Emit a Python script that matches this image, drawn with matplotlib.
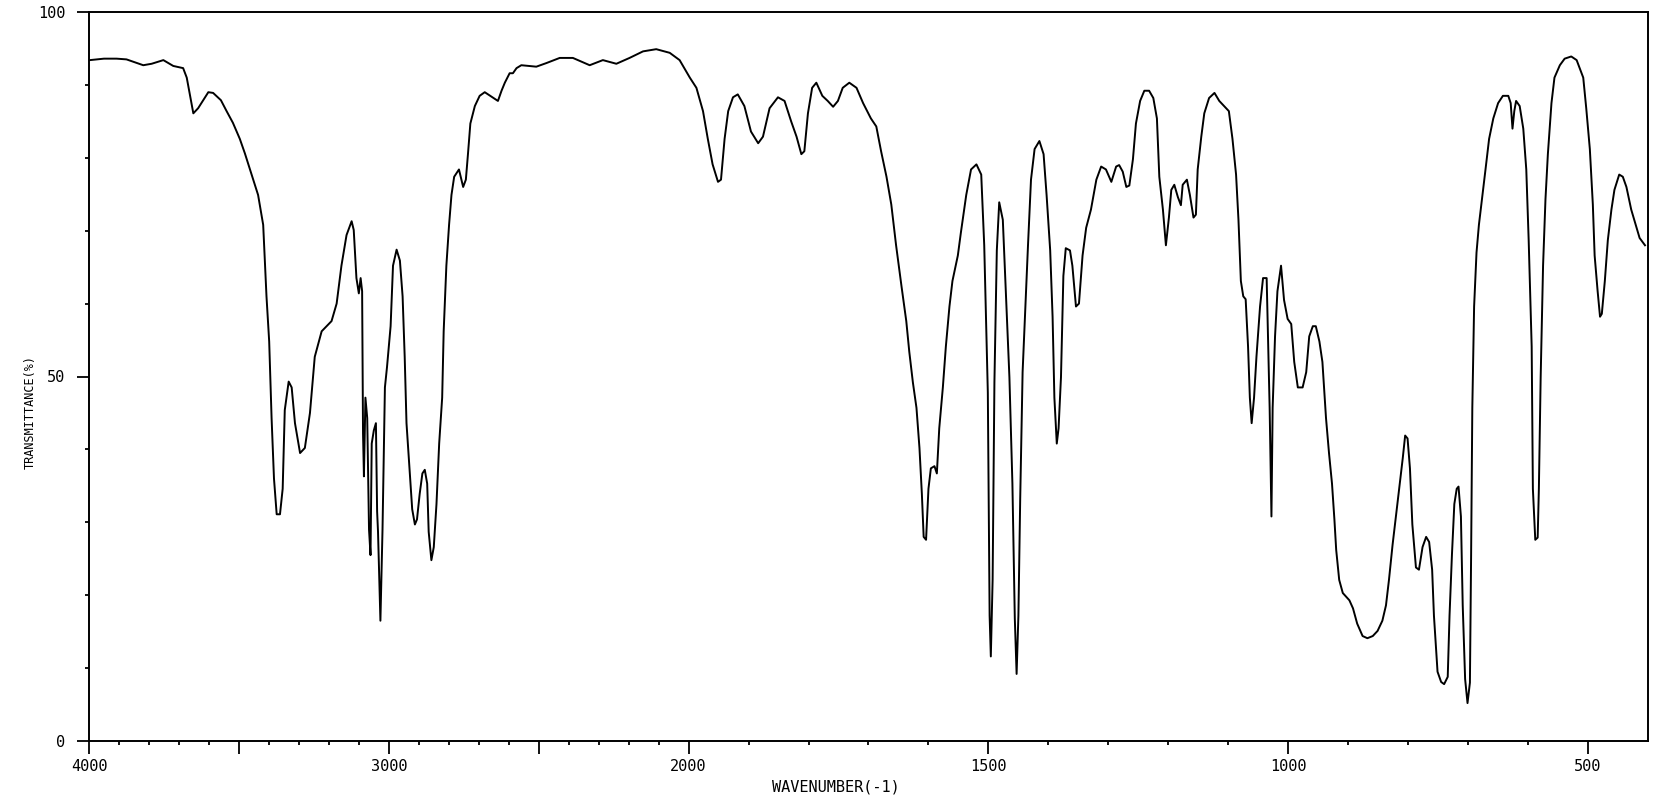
import numpy as np
import matplotlib
matplotlib.use('Agg')
import matplotlib.pyplot as plt

# IR spectrum (wavenumber in cm-1, transmittance in %)
wavenumber = [
    3997, 3950, 3908, 3875, 3819, 3791, 3752, 3719, 3686, 3674, 3652, 3636, 3602, 3586,
    3560, 3541, 3520, 3497, 3480, 3463, 3450, 3436, 3428, 3419, 3408, 3399, 3391, 3383, 3374, 3363, 3354, 3347, 3334,
    3324, 3313, 3296, 3280, 3263, 3247, 3224, 3191, 3174, 3158, 3141, 3124, 3117, 3108,
    3100, 3094, 3089, 3086, 3083, 3078, 3072, 3066, 3061, 3057, 3050, 3043, 3039, 3036,
    3028, 3021, 3013, 3006, 2994, 2986, 2974, 2963, 2954, 2947, 2941, 2930, 2922, 2913,
    2906, 2897, 2888, 2880, 2872, 2867, 2858, 2850, 2841, 2832, 2822, 2817, 2808, 2799,
    2791, 2782, 2766, 2752, 2743, 2736, 2728, 2713, 2697, 2680, 2658, 2636, 2624, 2613,
    2597, 2586, 2574, 2558, 2508, 2474, 2430, 2386, 2330, 2286, 2241, 2197, 2152, 2108,
    2063, 2030, 1998,
    1987, 1976, 1968, 1960, 1951, 1946, 1940, 1934, 1926, 1918, 1907, 1896, 1884, 1876,
    1865, 1851, 1840, 1829, 1820, 1812, 1807, 1801, 1794, 1787, 1777, 1768, 1759, 1751,
    1743, 1732, 1720, 1709, 1696, 1687, 1679, 1670, 1662, 1654, 1645, 1637, 1632, 1626,
    1620, 1615, 1611, 1608, 1604, 1600, 1596, 1590, 1586, 1582, 1576, 1571, 1565, 1560,
    1551, 1546, 1537, 1529, 1520, 1512, 1507, 1501, 1498, 1496, 1493, 1490, 1486, 1482,
    1476, 1470, 1465, 1460, 1456, 1453, 1450, 1447, 1443, 1438, 1434, 1429, 1423, 1415,
    1408, 1403, 1397, 1393, 1390, 1386, 1383, 1379, 1375, 1371, 1364, 1360, 1354, 1349,
    1343, 1337, 1329, 1320, 1312, 1304, 1295, 1287, 1282, 1276, 1270, 1265, 1259, 1254,
    1247, 1240, 1232, 1225, 1219, 1215, 1209, 1204, 1199, 1195, 1190, 1184, 1179, 1176,
    1169, 1164, 1158, 1154, 1151, 1145, 1140, 1132, 1123, 1115, 1107, 1099, 1093, 1087,
    1083, 1079, 1075, 1071, 1067, 1064, 1061, 1057, 1053, 1047, 1042, 1036, 1031, 1028,
    1026, 1022, 1018, 1012, 1007, 1001, 995, 990, 984, 976, 970, 965, 959, 954, 948, 943,
    937, 932, 927, 923, 920, 915, 909, 898, 892, 885, 876, 868, 859, 851, 843, 837, 832,
    826, 820, 815, 809, 805, 801, 797, 793, 787, 782, 776, 770, 765, 760, 757, 751, 745,
    740, 734, 731, 727, 723, 719, 716, 712, 709, 705, 701, 697, 695, 693, 690, 686, 682,
    676, 671, 665, 658, 650, 642, 633, 629, 626, 623, 620, 614, 608, 603, 599, 594, 592,
    588, 584, 582, 579, 575, 571, 567, 561, 556, 547, 539, 528, 519, 508, 503, 497, 492,
    489, 484, 480, 477, 472, 467, 461, 456, 448, 442, 436, 428, 419, 414, 405,
]
transmittance = [
    93.4, 93.6, 93.6, 93.5, 92.7, 92.9, 93.4, 92.6, 92.3, 91.0, 86.1, 86.8, 89.0, 88.9,
    87.9, 86.4, 84.8, 82.6, 80.6, 78.4, 76.7, 74.9, 73.0, 70.8, 61.0, 54.8, 44.3, 36.0, 31.1, 31.1, 34.6, 45.4, 49.3,
    48.5, 43.6, 39.5, 40.2, 45.0, 52.7, 56.2, 57.6, 60.0, 65.2, 69.4, 71.3, 70.1, 63.5,
    61.4, 63.5, 61.7, 42.2, 36.3, 47.1, 44.3, 29.0, 25.5, 40.8, 42.6, 43.6, 31.5, 28.7,
    16.5, 29.0, 48.5, 51.3, 56.9, 65.2, 67.4, 65.9, 61.0, 52.7, 43.6, 36.7, 31.8, 29.7,
    30.4, 33.9, 36.7, 37.2, 35.3, 28.7, 24.8, 26.6, 32.5, 40.8, 47.1, 56.2, 65.2, 70.8,
    74.9, 77.4, 78.4, 76.0, 77.0, 80.5, 84.7, 87.1, 88.5, 89.0, 88.4, 87.8, 89.2, 90.3,
    91.6, 91.6, 92.3, 92.7, 92.5, 93.0, 93.7, 93.7, 92.7, 93.4, 92.9, 93.7, 94.6, 94.9,
    94.4, 93.4, 91.0,
    89.6, 86.4, 82.6, 79.1, 76.7, 77.0, 82.6, 86.4, 88.3, 88.7, 87.1, 83.6, 82.0, 82.9,
    86.8, 88.3, 87.8, 85.0, 82.9, 80.5, 80.9, 86.1, 89.6, 90.3, 88.5, 87.8, 87.0, 87.8,
    89.6, 90.3, 89.6, 87.5, 85.4, 84.3, 80.9, 77.4, 73.6, 68.0, 62.4, 57.6, 53.4, 49.2,
    45.7, 40.2, 33.9, 28.0, 27.6, 34.6, 37.4, 37.7, 36.7, 42.9, 48.5, 54.1, 59.6, 63.1,
    66.6, 69.7, 74.9, 78.4, 79.1, 77.7, 68.0, 47.8, 17.2, 11.6, 22.1, 49.2, 67.3, 73.9,
    71.5, 59.6, 49.9, 35.3, 16.8, 9.2, 17.2, 33.2, 50.6, 60.3, 68.0, 77.0, 81.2, 82.3,
    80.5, 74.9, 67.3, 58.2, 47.1, 40.8, 42.9, 49.9, 63.8, 67.6, 67.3, 65.2, 59.6, 60.0,
    66.6, 70.4, 72.9, 77.0, 78.8, 78.4, 76.7, 78.8, 79.0, 78.1, 76.0, 76.2, 79.8, 84.7,
    87.8, 89.2, 89.2, 88.2, 85.4, 77.4, 72.9, 68.0, 71.8, 75.6, 76.3, 74.6, 73.5, 76.3,
    77.0, 74.9, 71.8, 72.2, 78.4, 82.9, 86.1, 88.2, 88.9, 87.8, 87.1, 86.4, 82.6, 77.7,
    71.5, 63.1, 61.0, 60.6, 54.1, 47.1, 43.6, 47.1, 52.7, 59.6, 63.5, 63.5, 45.7, 30.8,
    45.7, 55.5, 61.7, 65.2, 60.5, 57.9, 57.2, 52.0, 48.5, 48.5, 50.6, 55.5, 56.9, 56.9, 54.8, 52.0,
    44.3, 39.5, 35.3, 30.4, 26.2, 22.1, 20.3, 19.3, 18.2, 16.1, 14.4, 14.1, 14.4, 15.1, 16.5, 18.6, 22.1,
    26.9, 31.1, 34.6, 38.8, 41.9, 41.5, 37.4, 29.7, 23.8, 23.5, 26.6, 28.0, 27.3, 23.5, 17.2, 9.5, 8.1,
    7.8, 8.8, 17.2, 25.5, 32.5, 34.6, 34.9, 30.8, 18.6, 8.5, 5.2, 8.0, 25.5, 45.7, 59.6, 67.0, 70.8,
    74.9, 78.4, 82.6, 85.4, 87.5, 88.5, 88.5, 87.5, 84.0, 86.4, 87.8, 87.1, 84.0, 78.4, 68.7, 54.1, 34.6,
    27.6, 27.9, 34.6, 49.9, 65.2, 74.3, 80.5, 87.5, 91.0, 92.7, 93.6, 93.9, 93.4, 91.0, 86.8, 81.2, 73.6,
    66.6, 61.7, 58.2, 58.6, 63.1, 68.7, 72.9, 75.6, 77.7, 77.4, 76.0, 72.9, 70.4, 69.0, 68.0,
]

x_major = [4000, 3500, 3000, 2500, 2000, 1500, 1000, 500]
x_major_labels = ['4000', '', '3000', '', '2000', '1500', '1000', '500']
y_major = [0, 50, 100]
y_major_labels = ['0', '50', '100']


# the chart is compressed 2:1 above 2000 cm-1
def fwd(x):
    x = np.asarray(x, dtype=float)
    return np.where(x >= 2000, 2000 + (x - 2000) / 2, x)


def inv(u):
    u = np.asarray(u, dtype=float)
    return np.where(u >= 2000, 2000 + (u - 2000) * 2, u)


mono = 'DejaVu Sans Mono'

fig = plt.figure(figsize=(16.7, 7.98), dpi=100)
ax = fig.add_axes([89 / 1670, 1 - 741 / 798, 1559 / 1670, 729 / 798])

ax.plot(wavenumber, transmittance, color='black', lw=1.4)

ax.set_xscale('function', functions=(fwd, inv))
ax.set_xlim(4000, 400)
ax.set_ylim(0, 100)

ax.set_xticks(x_major)
ax.set_xticklabels(x_major_labels, family=mono, fontsize=11)
ax.set_xticks([w for w in range(500, 4000, 100) if w % 500 != 0], minor=True)
ax.set_yticks(y_major)
ax.set_yticklabels(y_major_labels, family=mono, fontsize=11)
ax.set_yticks([v for v in range(10, 100, 10) if v != 50], minor=True)

ax.tick_params(axis='both', which='major', direction='out', length=9, width=1.3, color='black')
ax.tick_params(axis='both', which='minor', direction='out', length=3, width=1.3, color='black')
ax.tick_params(axis='x', which='major', pad=4)
ax.tick_params(axis='y', which='major', pad=8)

for s in ax.spines.values():
    s.set_linewidth(1.4)
    s.set_color('black')

ax.set_xlabel('WAVENUMBER(-1)', family=mono, fontsize=11)
ax.xaxis.set_label_coords((836 - 89) / 1559, (741 - 780) / 729)
ax.set_ylabel('TRANSMITTANCE(%)', family=mono, fontsize=8.5, va='center')
ax.yaxis.set_label_coords((30 - 89) / 1559, (741 - 412) / 729)

fig.savefig('out.png', dpi=100)
